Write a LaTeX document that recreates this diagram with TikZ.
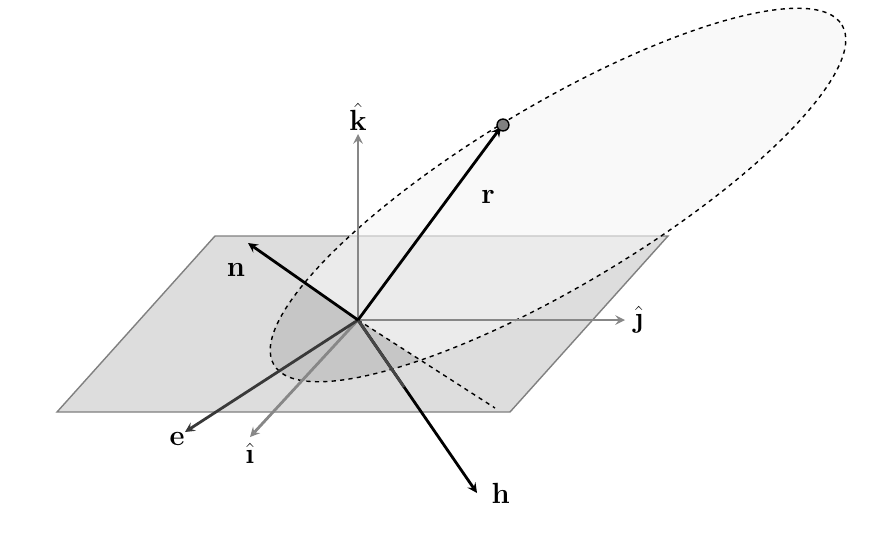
\documentclass[tikz,border=0pt]{standalone}
\usepackage{amsmath}
\usepackage{bm}
\usepackage{tikz}
\begin{document}
\begin{tikzpicture}[x=0.025cm,y=-0.025cm,>=stealth,line width=2pt]
          % Define styles
          \tikzstyle{axis} = [->, gray!65!black!70]
          \tikzstyle{vec} = [->, black]
          \tikzstyle{lbl} = [font=\huge]
          \useasboundingbox (0,0) rectangle (874,552);

          % Plane
          \draw[gray, line width=1pt, fill=gray!27] (215,236) -- (668,236) -- (510,412) -- (57,412) -- cycle;

          % Orbit
          \fill[gray!8, opacity=0.6] [shift={(558,195)}, rotate=30.9] (0,0) ellipse (331 and 90);
          \begin{scope}
               \clip [shift={(558,195)}, rotate=30.9] (0,0) ellipse (331 and 90);
               \fill[gray!45] (358,320) -- (28,89) -- (28,520) -- (769,584) -- cycle;
          \end{scope}
          \draw[dashed, line width=1pt] [shift={(558,195)}, rotate=30.9] (0,0) ellipse (331 and 90);

          \coordinate (O) at (358,320);
          \coordinate (N) at (495,408);
          \draw[dashed, line width=1pt] (O) -- (N);

          % Axes
          \draw[axis] (O) -- (358,134) node[lbl, above=-2pt, black] {$\hat{\textbf{k}}$};
          \draw[axis] (O) -- (625,320) node[lbl, right=2pt, black] {$\hat{\textbf{\j}}$};
          \draw[axis] (O) -- (250,437) node[lbl, below=0pt, black] {$\hat{\textbf{\i}}$};

          % Vectors
          \draw[->, gray!45!black] (O) -- (185,432) node[lbl, below left=-4pt, black] {$\mathbf{e}$};
          \draw[vec] (O) -- (477,493) node[lbl, right=6pt, black] {$\mathbf{h}$};
          \draw[gray!55!black] (O) -- (404,387);
          \draw[vec] (O) -- (248,243);
          \node[lbl] (n) at (236,270) {$\mathbf{n}$};
          \draw[vec] (O) -- (501,127);
          \node[lbl] (r) at (488,197) {$\mathbf{r}$};
          \node[circle, draw, fill=gray, line width=1pt, inner sep=3pt] (p) at (503,125) {};
\end{tikzpicture}
\end{document}
